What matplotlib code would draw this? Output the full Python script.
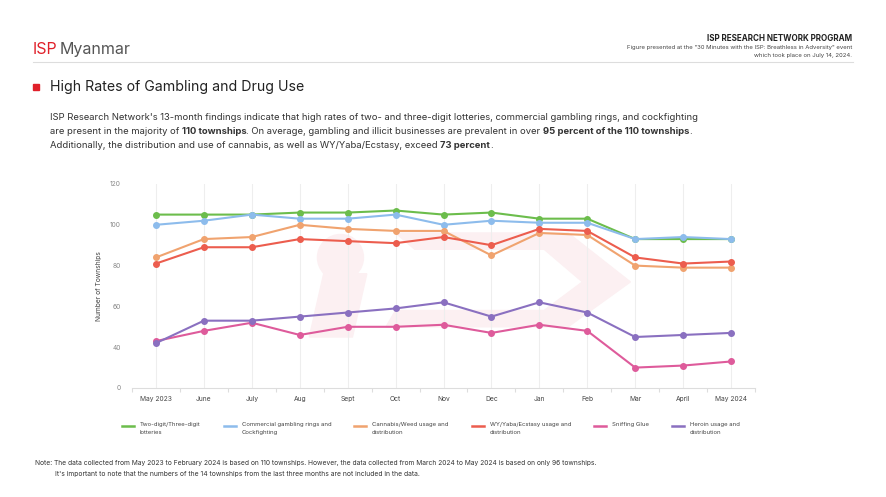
import matplotlib
matplotlib.use('Agg')
import matplotlib.pyplot as plt
from matplotlib.lines import Line2D
from matplotlib.patches import Ellipse, Polygon, Rectangle

plt.rcParams['font.family'] = ['Inter', 'DejaVu Sans']

months = ['May 2023', 'June', 'July', 'Aug', 'Sept', 'Oct', 'Nov', 'Dec',
          'Jan', 'Feb', 'Mar', 'April', 'May 2024']
lotteries = [105, 105, 105, 106, 106, 107, 105, 106, 103, 103, 93, 93, 93]
gambling = [100, 102, 105, 103, 103, 105, 100, 102, 101, 101, 93, 94, 93]
cannabis = [84, 93, 94, 100, 98, 97, 97, 85, 96, 95, 80, 79, 79]
yaba = [81, 89, 89, 93, 92, 91, 94, 90, 98, 97, 84, 81, 82]
glue = [43, 48, 52, 46, 50, 50, 51, 47, 51, 48, 30, 31, 33]
heroin = [42, 53, 53, 55, 57, 59, 62, 55, 62, 57, 45, 46, 47]

series_labels = ['Two-digit/Three-digit\nlotteries',
                 'Commercial gambling rings and\nCockfighting',
                 'Cannabis/Weed usage and\ndistribution',
                 'WY/Yaba/Ecstasy usage and\ndistribution',
                 'Sniffing Glue',
                 'Heroin usage and\ndistribution']
series = [lotteries, gambling, cannabis, yaba, glue, heroin]
colors = ['#6cbd4c', '#8dbcec', '#f0a36f', '#ec5d4e', '#de5b9b', '#8a70c0']

y_ticks = [20, 40, 60, 80, 100, 120]
y_tick_labels = ['0', '40', '60', '80', '100', '120']

W, H = 886, 497
fig = plt.figure(figsize=(W / 100, H / 100), dpi=100)
renderer = fig.canvas.get_renderer()


def px(x, y):
    return x / W, 1 - y / H


def rich_line(x, y, parts, size, color='#333333'):
    fx, fy = px(x, y)
    for txt, bold in parts:
        t = fig.text(fx, fy, txt, fontsize=size, color=color, va='baseline',
                     fontweight='bold' if bold else 'normal')
        fx += t.get_window_extent(renderer).width / fig.bbox.width
    return fx


# header
rich_x = rich_line(33, 54, [('ISP', False)], 11.5, color='#e0202a')
fig.text(rich_x + 2 / W, 1 - 54 / H, 'Myanmar', fontsize=11.5, color='#555555', va='baseline')
fig.add_artist(Line2D([33 / W, 853 / W], [1 - 62 / H] * 2, color='#dddddd', lw=0.8))
fig.text(*px(852, 41), 'ISP RESEARCH NETWORK PROGRAM', fontsize=5.8, fontweight='bold',
         color='#222222', ha='right', va='baseline')
fig.text(*px(852, 49), 'Figure presented at the "30 Minutes with the ISP: Breathless in Adversity" event',
         fontsize=4.3, color='#444444', ha='right', va='baseline')
fig.text(*px(852, 57), 'which took place on July 14, 2024.', fontsize=4.3, color='#444444',
         ha='right', va='baseline')

# title
fig.add_artist(Rectangle(px(33, 90), 6 / W, 6 / H, color='#e0202a', transform=fig.transFigure))
fig.text(*px(50, 91), 'High Rates of Gambling and Drug Use', fontsize=10.2, color='#222222',
         va='baseline')

rich_line(50, 120, [("ISP Research Network's 13-month findings indicate that high rates of two- and "
                     "three-digit lotteries, commercial gambling rings, and cockfighting", False)], 6.8)
rich_line(50, 134, [('are present in the majority of ', False), ('110 townships', True),
                    ('. On average, gambling and illicit businesses are prevalent in over ', False),
                    ('95 percent of the 110 townships', True), ('.', False)], 6.8)
rich_line(50, 148, [('Additionally, the distribution and use of cannabis, as well as WY/Yaba/Ecstasy, exceed ', False),
                    ('73 percent', True), ('.', False)], 6.8)

# chart
ax = fig.add_axes([132 / W, 1 - 388 / H, 623 / W, 204 / H])
x = list(range(len(months)))

# faint watermark logo
wm = '#fcf0f2'
ax.add_patch(Ellipse((3.85, 84), 0.96, 22.5, color=wm, zorder=0))
ax.add_patch(Polygon([(3.2, 45), (3.5, 76), (4.4, 76), (4.1, 45)], closed=True, color=wm, zorder=0))
ax.add_patch(Polygon([(4.8, 50), (8.6, 50), (9.9, 72), (8.6, 96), (5.0, 96),
                      (5.4, 88), (8.1, 88), (8.9, 72), (8.1, 58), (5.0, 58)],
                     closed=True, color=wm, zorder=0))

for vals, label, c in zip(series, series_labels, colors):
    ax.plot(x, vals, color=c, lw=1.5, marker='o', ms=4, label=label, zorder=3)

ax.set_xlim(-0.5, len(months) - 0.5)
ax.set_ylim(20, 120)
ax.set_xticks(x)
ax.set_xticklabels(months, fontsize=4.8, color='#444444')
ax.set_xticks([i + 0.5 for i in x[:-1]] + [-0.5, len(months) - 0.5], minor=True)
ax.set_yticks(y_ticks)
ax.set_yticklabels(y_tick_labels, fontsize=4.8, color='#888888')
ax.tick_params(axis='x', which='major', length=0, pad=6)
ax.tick_params(axis='x', which='minor', length=3, color='#dddddd', width=0.8)
ax.tick_params(axis='y', length=0, pad=8)
ax.grid(axis='x', which='major', color='#eeeeee', lw=0.8)
for s in ['top', 'right', 'left']:
    ax.spines[s].set_visible(False)
ax.spines['bottom'].set_color('#dddddd')
ax.spines['bottom'].set_linewidth(0.8)
ax.set_ylabel('Number of Townships', fontsize=4.8, color='#444444', labelpad=6)

# legend laid out in one row
lx = 122
for label, c in zip(series_labels, colors):
    fig.add_artist(Line2D([lx / W, (lx + 12) / W], [1 - 426 / H] * 2, color=c, lw=1.8))
    t = fig.text(*px(lx + 18, 422), label, fontsize=4.3, color='#444444', va='top',
                 linespacing=1.7)
    lx += 18 + t.get_window_extent(renderer).width + 23

# note
fig.text(*px(35, 465), 'Note: The data collected from May 2023 to February 2024 is based on 110 townships. '
         'However, the data collected from March 2024 to May 2024 is based on only 96 townships.',
         fontsize=4.8, color='#333333', va='baseline')
fig.text(*px(55, 476), "It's important to note that the numbers of the 14 townships from the last three "
         "months are not included in the data.", fontsize=4.85, color='#333333', va='baseline')

fig.savefig('out.png', dpi=100)
